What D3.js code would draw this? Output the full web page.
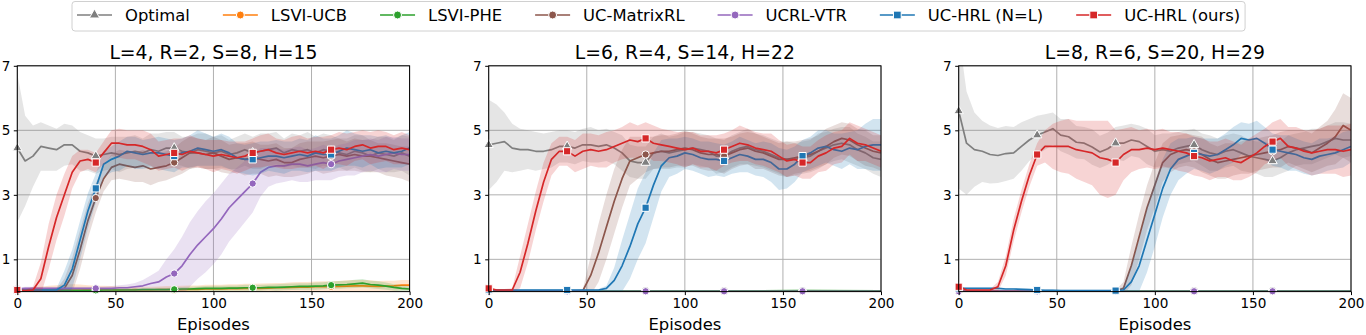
<!DOCTYPE html>
<html>
<head>
<meta charset="utf-8">
<script src="https://cdn.jsdelivr.net/npm/d3@7"></script>
<style>
  body { margin: 0; background: #fff; }
  text { font-family: "DejaVu Sans", sans-serif; }
</style>
</head>
<body>
<div id="chart"></div>
<script>
var episodes = [0,4,8,12,16,20,24,28,32,36,40,44,48,52,56,60,64,68,72,76,80,84,88,92,96,100,
  104,108,112,116,120,124,128,132,136,140,144,148,152,156,160,164,168,172,176,180,184,188,192,196,200];
var episodesFlat = [0,40,80,120,160,200];
var markerEpisodes = [0,40,80,120,160];
var xTicks = [0,50,100,150,200];
var yTicks = [1,3,5,7];

var methodNames = ['Optimal','LSVI-UCB','LSVI-PHE','UC-MatrixRL','UCRL-VTR','UC-HRL (N=L)','UC-HRL (ours)'];
var methodColors = ['#7f7f7f','#ff7f0e','#2ca02c','#8c564b','#9467bd','#1f77b4','#d62728'];
var methodMarkers = ['triangle','circle','circle','circle','circle','square','square'];
var titles = ['L=4, R=2, S=8, H=15','L=6, R=4, S=14, H=22','L=8, R=6, S=20, H=29'];

// ---- panel 1 ----
var p1Optimal = [4.45,4.05,4.2,4.5,4.45,4.4,4.55,4.55,4.35,4.3,
  4.2,4.25,4.3,4.25,4.3,4.35,4.3,4.4,4.35,4.45,
  4.45,4.35,4.3,4.4,4.35,4.3,4.35,4.25,4.3,4.4,
  4.3,4.35,4.4,4.45,4.3,4.4,4.35,4.4,4.3,4.4,
  4.35,4.3,4.25,4.35,4.3,4.2,4.3,4.25,4.2,4.3,
  4.2];
var p1OptimalSd = [2.3,1.4,0.95,0.75,0.7,0.65,0.65,0.6,0.6,0.55,
  0.55,0.5,0.5,0.55,0.5,0.5,0.45,0.5,0.55,0.5,
  0.5,0.45,0.5,0.5,0.55,0.5,0.5,0.45,0.5,0.5,
  0.5,0.55,0.5,0.5,0.45,0.5,0.5,0.55,0.5,0.5,
  0.5,0.45,0.5,0.5,0.55,0.5,0.5,0.55,0.5,0.55,
  0.6];
var p1Ucb = [0.03,0.04,0.05,0.05,0.06,0.06,0.07,0.08,0.08,0.07,
  0.06,0.06,0.05,0.05,0.05,0.06,0.05,0.05,0.06,0.06,
  0.06,0.06,0.07,0.07,0.08,0.08,0.08,0.09,0.09,0.1,
  0.1,0.1,0.11,0.12,0.12,0.13,0.14,0.14,0.15,0.15,
  0.15,0.16,0.17,0.18,0.18,0.17,0.16,0.17,0.18,0.2,
  0.2];
var p1UcbSd = [0.05,0.06,0.08,0.1,0.12,0.14,0.15,0.15,0.14,0.13,
  0.12,0.12,0.12,0.11,0.1,0.1,0.1,0.1,0.1,0.11,
  0.11,0.12,0.12,0.12,0.13,0.13,0.13,0.14,0.14,0.14,
  0.14,0.15,0.15,0.15,0.15,0.16,0.16,0.16,0.16,0.17,
  0.17,0.17,0.18,0.18,0.18,0.18,0.17,0.17,0.16,0.16,
  0.16];
var p1Phe = [0.02,0.02,0.03,0.03,0.03,0.03,0.04,0.04,0.04,0.04,
  0.04,0.05,0.05,0.05,0.05,0.05,0.06,0.06,0.06,0.06,
  0.07,0.08,0.08,0.09,0.1,0.1,0.1,0.11,0.11,0.12,
  0.12,0.12,0.13,0.13,0.14,0.15,0.16,0.16,0.17,0.18,
  0.2,0.21,0.22,0.24,0.26,0.22,0.2,0.17,0.13,0.1,
  0.08];
var p1PheSd = [0.03,0.03,0.03,0.03,0.03,0.03,0.03,0.04,0.04,0.04,
  0.04,0.04,0.05,0.05,0.05,0.05,0.05,0.05,0.06,0.06,
  0.06,0.06,0.07,0.07,0.07,0.08,0.08,0.08,0.08,0.09,
  0.09,0.09,0.09,0.1,0.1,0.1,0.1,0.1,0.11,0.11,
  0.11,0.12,0.12,0.13,0.13,0.12,0.12,0.11,0.1,0.1,
  0.09];
var p1Matrix = [0.02,0.02,0.02,0.02,0.02,0.03,0.1,0.5,1.3,2.2,
  2.9,3.5,3.85,3.95,3.9,3.85,3.9,3.8,3.85,3.9,
  4.0,4.15,4.3,4.3,4.25,4.3,4.2,4.1,4.15,4.1,
  4.15,4.1,4.05,4.1,4.0,4.0,4.1,4.15,4.2,4.15,
  4.2,4.25,4.2,4.25,4.2,4.2,4.15,4.1,4.05,4.0,
  3.95];
var p1MatrixSd = [0.02,0.02,0.02,0.02,0.02,0.05,0.3,0.55,0.6,0.55,
  0.45,0.4,0.4,0.45,0.45,0.45,0.5,0.5,0.45,0.45,
  0.45,0.5,0.5,0.45,0.45,0.5,0.5,0.45,0.45,0.5,
  0.5,0.45,0.5,0.5,0.45,0.45,0.5,0.5,0.45,0.5,
  0.5,0.5,0.45,0.5,0.5,0.5,0.45,0.5,0.5,0.5,
  0.55];
var p1Vtr = [0.08,0.1,0.1,0.1,0.1,0.1,0.1,0.1,0.1,0.1,
  0.1,0.1,0.1,0.12,0.12,0.15,0.18,0.25,0.3,0.45,
  0.56,0.8,1.15,1.45,1.7,1.95,2.25,2.6,2.85,3.1,
  3.35,3.7,3.85,3.9,3.9,3.95,3.95,3.9,3.95,4.0,
  3.95,4.05,4.1,4.15,4.2,4.25,4.2,4.25,4.3,4.25,
  4.25];
var p1VtrSd = [0.04,0.05,0.05,0.05,0.05,0.05,0.05,0.05,0.05,0.05,
  0.05,0.06,0.07,0.08,0.1,0.12,0.18,0.25,0.35,0.55,
  0.75,0.9,1.0,1.05,1.1,1.1,1.1,1.05,1.0,0.95,
  0.9,0.75,0.6,0.55,0.5,0.5,0.55,0.5,0.5,0.55,
  0.5,0.5,0.5,0.55,0.5,0.5,0.5,0.55,0.5,0.5,
  0.5];
var p1Hrl = [0.05,0.05,0.05,0.05,0.05,0.05,0.2,0.7,1.6,2.5,
  3.2,3.95,4.1,4.2,4.35,4.3,4.25,4.3,4.3,4.25,
  4.2,4.3,4.35,4.45,4.4,4.35,4.4,4.3,4.15,4.1,
  4.1,4.15,4.2,4.2,4.15,4.2,4.25,4.2,4.3,4.25,
  4.25,4.35,4.45,4.4,4.35,4.4,4.3,4.35,4.3,4.35,
  4.45];
var p1HrlSd = [0.03,0.03,0.03,0.03,0.03,0.05,0.45,0.6,0.6,0.55,
  0.45,0.4,0.4,0.45,0.45,0.5,0.45,0.45,0.5,0.5,
  0.5,0.45,0.5,0.55,0.5,0.45,0.5,0.5,0.45,0.45,
  0.5,0.5,0.45,0.5,0.5,0.45,0.5,0.5,0.55,0.5,
  0.5,0.5,0.55,0.5,0.5,0.45,0.5,0.5,0.45,0.5,
  0.5];
var p1Ours = [0.05,0.03,0.05,0.4,1.4,2.3,3.0,3.7,4.05,4.1,
  4.0,4.3,4.6,4.6,4.55,4.55,4.5,4.4,4.2,4.25,
  4.3,4.25,4.35,4.3,4.25,4.2,4.25,4.2,4.15,4.2,
  4.3,4.35,4.4,4.3,4.25,4.3,4.35,4.3,4.35,4.3,
  4.4,4.45,4.4,4.5,4.55,4.45,4.5,4.5,4.4,4.45,
  4.4];
var p1OursSd = [0.05,0.03,0.1,0.5,0.7,0.7,0.65,0.5,0.35,0.3,
  0.3,0.35,0.4,0.45,0.45,0.45,0.5,0.5,0.45,0.45,
  0.45,0.5,0.5,0.45,0.45,0.5,0.45,0.45,0.5,0.45,
  0.45,0.5,0.5,0.45,0.45,0.5,0.5,0.45,0.45,0.5,
  0.45,0.5,0.5,0.45,0.45,0.5,0.5,0.45,0.45,0.5,
  0.45];

// ---- panel 2 ----
var p2Optimal = [4.55,4.6,4.65,4.45,4.4,4.4,4.35,4.35,4.4,4.5,
  4.5,4.45,4.55,4.55,4.5,4.55,4.45,4.3,4.05,4.0,
  4.0,4.3,4.35,4.3,4.35,4.4,4.45,4.4,4.35,4.2,
  4.2,4.35,4.45,4.5,4.4,4.35,4.25,4.15,4.1,4.1,
  4.15,4.2,4.35,4.45,4.55,4.6,4.55,4.4,4.3,4.15,
  4.1];
var p2OptimalSd = [1.4,1.2,0.9,0.75,0.65,0.6,0.6,0.55,0.55,0.5,
  0.5,0.5,0.5,0.55,0.5,0.5,0.5,0.55,0.5,0.5,
  0.5,0.5,0.55,0.5,0.5,0.55,0.5,0.5,0.5,0.55,
  0.5,0.5,0.5,0.55,0.5,0.5,0.5,0.5,0.55,0.5,
  0.5,0.5,0.55,0.5,0.5,0.5,0.55,0.5,0.5,0.5,
  0.55];
var p2Ucb = [0.02,0.02,0.02,0.02,0.02,0.02];
var p2UcbSd = [0.02,0.02,0.02,0.02,0.02,0.02];
var p2Phe = [0.02,0.02,0.02,0.02,0.03,0.02];
var p2PheSd = [0.02,0.02,0.02,0.02,0.03,0.02];
var p2Matrix = [0.02,0.02,0.02,0.02,0.02,0.02,0.02,0.02,0.02,0.02,
  0.02,0.02,0.03,0.5,1.2,2.0,2.8,3.5,4.05,4.15,
  4.25,4.3,4.35,4.35,4.4,4.45,4.4,4.3,4.25,4.25,
  4.2,4.3,4.4,4.45,4.35,4.3,4.2,4.1,4.1,4.15,
  4.2,4.25,4.35,4.5,4.65,4.75,4.7,4.55,4.45,4.35,
  4.3];
var p2MatrixSd = [0.02,0.02,0.02,0.02,0.02,0.02,0.02,0.02,0.02,0.02,
  0.02,0.02,0.05,0.6,0.9,1.0,1.0,0.9,0.75,0.65,
  0.55,0.5,0.5,0.5,0.5,0.55,0.5,0.5,0.5,0.5,
  0.55,0.5,0.5,0.5,0.55,0.5,0.5,0.5,0.55,0.5,
  0.5,0.5,0.5,0.55,0.5,0.5,0.5,0.5,0.55,0.5,
  0.55];
var p2Vtr = [0.01,0.01,0.01,0.01,0.01,0.01];
var p2VtrSd = [0.01,0.01,0.01,0.01,0.01,0.01];
var p2Hrl = [0.05,0.05,0.05,0.05,0.05,0.05,0.05,0.05,0.05,0.05,
  0.05,0.05,0.05,0.05,0.05,0.1,0.35,0.8,1.4,2.1,
  2.6,3.3,3.9,4.15,4.2,4.3,4.25,4.15,4.1,4.1,
  4.05,4.15,4.25,4.2,4.1,4.1,4.0,3.8,3.8,3.95,
  4.2,4.3,4.45,4.5,4.4,4.35,4.45,4.4,4.5,4.55,
  4.55];
var p2HrlSd = [0.03,0.03,0.03,0.03,0.03,0.03,0.03,0.03,0.03,0.03,
  0.03,0.03,0.03,0.03,0.03,0.08,0.4,0.8,1.0,1.1,
  1.1,1.0,0.8,0.6,0.55,0.5,0.5,0.5,0.55,0.5,
  0.5,0.5,0.55,0.5,0.5,0.55,0.6,0.65,0.6,0.55,
  0.5,0.5,0.55,0.5,0.5,0.55,0.5,0.6,0.7,0.8,
  0.8];
var p2Ours = [0.1,0.05,0.05,0.05,0.6,1.5,2.5,3.4,4.1,4.35,
  4.35,4.2,4.35,4.4,4.35,4.4,4.5,4.6,4.7,4.65,
  4.75,4.6,4.55,4.5,4.45,4.4,4.45,4.35,4.35,4.3,
  4.4,4.5,4.6,4.55,4.45,4.4,4.35,4.2,4.05,4.1,
  4.0,4.0,4.2,4.3,4.45,4.5,4.75,4.6,4.55,4.45,
  4.35];
var p2OursSd = [0.05,0.03,0.03,0.05,0.5,0.6,0.6,0.6,0.5,0.45,
  0.45,0.5,0.55,0.5,0.5,0.55,0.5,0.5,0.55,0.5,
  0.5,0.55,0.5,0.5,0.5,0.55,0.5,0.5,0.5,0.55,
  0.5,0.5,0.55,0.5,0.5,0.5,0.55,0.5,0.5,0.5,
  0.5,0.5,0.5,0.55,0.5,0.5,0.5,0.55,0.5,0.5,
  0.5];

// ---- panel 3 ----
var p3Optimal = [5.6,4.6,4.4,4.35,4.25,4.22,4.28,4.3,4.5,4.7,
  4.85,4.95,5.05,4.85,4.8,4.63,4.6,4.48,4.33,4.43,
  4.6,4.6,4.7,4.65,4.5,4.35,4.4,4.35,4.45,4.5,
  4.55,4.4,4.3,4.25,4.35,4.4,4.3,4.2,4.15,4.1,
  4.05,4.15,4.3,4.4,4.45,4.5,4.55,4.65,4.75,4.7,
  4.7];
var p3OptimalSd = [2.4,1.6,1.15,0.95,0.9,0.85,0.85,0.8,0.75,0.65,
  0.6,0.55,0.5,0.5,0.55,0.5,0.5,0.55,0.5,0.5,
  0.5,0.55,0.5,0.5,0.55,0.5,0.5,0.55,0.5,0.5,
  0.5,0.5,0.55,0.5,0.5,0.5,0.55,0.5,0.5,0.55,
  0.5,0.5,0.55,0.5,0.5,0.55,0.5,0.5,0.5,0.55,
  0.5];
var p3Ucb = [0.02,0.02,0.02,0.02,0.02,0.02];
var p3UcbSd = [0.02,0.02,0.02,0.02,0.02,0.02];
var p3Phe = [0.02,0.02,0.02,0.02,0.02,0.02];
var p3PheSd = [0.02,0.02,0.02,0.02,0.02,0.02];
var p3Matrix = [0.02,0.02,0.02,0.02,0.02,0.02,0.02,0.02,0.02,0.02,
  0.02,0.02,0.02,0.02,0.02,0.02,0.02,0.02,0.02,0.02,
  0.02,0.1,0.8,1.7,2.6,3.3,4.0,4.25,4.35,4.4,
  4.35,4.25,4.1,4.0,4.05,4.1,4.15,4.2,4.25,4.3,
  4.35,4.4,4.5,4.45,4.4,4.3,4.45,4.6,4.8,5.15,
  5.0];
var p3MatrixSd = [0.02,0.02,0.02,0.02,0.02,0.02,0.02,0.02,0.02,0.02,
  0.02,0.02,0.02,0.02,0.02,0.02,0.02,0.02,0.02,0.02,
  0.02,0.2,0.6,0.7,0.7,0.7,0.6,0.55,0.5,0.5,
  0.5,0.55,0.5,0.5,0.55,0.5,0.5,0.55,0.5,0.5,
  0.5,0.55,0.5,0.55,0.6,0.6,0.65,0.7,0.85,1.0,
  1.0];
var p3Vtr = [0.01,0.01,0.01,0.01,0.01,0.01];
var p3VtrSd = [0.01,0.01,0.01,0.01,0.01,0.01];
var p3Hrl = [0.1,0.1,0.1,0.1,0.1,0.1,0.08,0.08,0.07,0.06,
  0.05,0.04,0.04,0.03,0.03,0.03,0.03,0.03,0.03,0.03,
  0.03,0.05,0.3,0.8,1.6,2.4,3.2,3.8,4.1,4.2,
  4.3,4.25,4.2,4.25,4.4,4.55,4.75,4.7,4.75,4.6,
  4.4,4.35,4.3,4.25,4.15,4.1,4.2,4.25,4.3,4.4,
  4.5];
var p3HrlSd = [0.03,0.03,0.03,0.03,0.03,0.03,0.03,0.03,0.03,0.03,
  0.03,0.03,0.03,0.03,0.03,0.03,0.03,0.03,0.03,0.03,
  0.03,0.1,0.5,0.8,1.0,1.0,0.9,0.8,0.65,0.55,
  0.5,0.5,0.55,0.5,0.5,0.55,0.5,0.5,0.55,0.5,
  0.5,0.5,0.55,0.5,0.5,0.5,0.55,0.5,0.5,0.55,
  0.5];
var p3Ours = [0.15,0.05,0.05,0.05,0.05,0.15,0.8,1.9,2.8,3.6,
  4.25,4.5,4.5,4.5,4.5,4.4,4.35,4.3,4.15,4.1,
  4.0,4.25,4.4,4.4,4.45,4.4,4.45,4.4,4.35,4.3,
  4.2,4.15,4.05,4.1,4.15,4.05,4.0,4.15,4.3,4.5,
  4.65,4.75,4.5,4.45,4.35,4.3,4.35,4.4,4.4,4.35,
  4.4];
var p3OursSd = [0.05,0.03,0.03,0.03,0.03,0.15,0.3,0.35,0.35,0.35,
  0.35,0.5,0.7,0.8,0.85,0.9,0.95,1.0,1.15,1.2,
  1.0,0.8,0.7,0.6,0.6,0.6,0.6,0.55,0.6,0.6,
  0.6,0.6,0.6,0.55,0.6,0.6,0.55,0.6,0.6,0.55,
  0.6,0.6,0.6,0.65,0.65,0.7,0.7,0.75,0.75,0.8,
  0.8];

var panels = [
  { title: titles[0], left: 17.3, series: [
    [episodes, p1Optimal, p1OptimalSd], [episodes, p1Ucb, p1UcbSd], [episodes, p1Phe, p1PheSd],
    [episodes, p1Matrix, p1MatrixSd], [episodes, p1Vtr, p1VtrSd], [episodes, p1Hrl, p1HrlSd],
    [episodes, p1Ours, p1OursSd]] },
  { title: titles[1], left: 488.7, series: [
    [episodes, p2Optimal, p2OptimalSd], [episodesFlat, p2Ucb, p2UcbSd], [episodesFlat, p2Phe, p2PheSd],
    [episodes, p2Matrix, p2MatrixSd], [episodesFlat, p2Vtr, p2VtrSd], [episodes, p2Hrl, p2HrlSd],
    [episodes, p2Ours, p2OursSd]] },
  { title: titles[2], left: 958.7, series: [
    [episodes, p3Optimal, p3OptimalSd], [episodesFlat, p3Ucb, p3UcbSd], [episodesFlat, p3Phe, p3PheSd],
    [episodes, p3Matrix, p3MatrixSd], [episodesFlat, p3Vtr, p3VtrSd], [episodes, p3Hrl, p3HrlSd],
    [episodes, p3Ours, p3OursSd]] }
];

var W = 1366, H = 335;
var plotW = 392.3, plotTop = 65.8, plotBottom = 291.6;

var svg = d3.select('#chart')
  .append('svg')
  .attr('width', W)
  .attr('height', H);

function symbolFor(name) {
  if (name === 'triangle') return d3.symbolTriangle;
  if (name === 'square') return d3.symbolSquare;
  return d3.symbolCircle;
}
function symbolSize(name) {
  if (name === 'triangle') return 38;
  if (name === 'square') return 52;
  return 42;
}

panels.forEach(function(panel, pi) {
  var x = d3.scaleLinear().domain([0, 200]).range([panel.left, panel.left + plotW]);
  var y = d3.scaleLinear().domain([0, 7]).range([plotBottom, plotTop]);

  var g = svg.append('g');

  svg.append('clipPath')
    .attr('id', 'clip' + pi)
    .append('rect')
    .attr('x', panel.left)
    .attr('y', plotTop)
    .attr('width', plotW)
    .attr('height', plotBottom - plotTop);

  // grid
  g.selectAll('line.gx')
    .data(xTicks)
    .enter()
    .append('line')
    .attr('x1', function(d) { return x(d); })
    .attr('x2', function(d) { return x(d); })
    .attr('y1', plotTop)
    .attr('y2', plotBottom)
    .attr('stroke', '#b0b0b0')
    .attr('stroke-width', 1);
  g.selectAll('line.gy')
    .data(yTicks)
    .enter()
    .append('line')
    .attr('x1', panel.left)
    .attr('x2', panel.left + plotW)
    .attr('y1', function(d) { return y(d); })
    .attr('y2', function(d) { return y(d); })
    .attr('stroke', '#b0b0b0')
    .attr('stroke-width', 1);

  var plot = g.append('g').attr('clip-path', 'url(#clip' + pi + ')');

  panel.series.forEach(function(s, si) {
    var xs = s[0], mean = s[1], sd = s[2];
    var pts = xs.map(function(e, i) { return { ep: e, m: mean[i], sd: sd[i] }; });
    var color = methodColors[si];

    var area = d3.area()
      .x(function(d) { return x(d.ep); })
      .y0(function(d) { return y(d.m - d.sd); })
      .y1(function(d) { return y(d.m + d.sd); });
    var line = d3.line()
      .x(function(d) { return x(d.ep); })
      .y(function(d) { return y(d.m); });

    plot.append('path')
      .datum(pts)
      .attr('d', area)
      .attr('fill', color)
      .attr('fill-opacity', 0.2)
      .attr('stroke', 'none');
    plot.append('path')
      .datum(pts)
      .attr('d', line)
      .attr('fill', 'none')
      .attr('stroke', color)
      .attr('stroke-width', 1.7)
      .attr('stroke-linejoin', 'round');

    var marks = pts.filter(function(d) { return markerEpisodes.indexOf(d.ep) >= 0; });
    g.selectAll(null)
      .data(marks)
      .enter()
      .append('path')
      .attr('d', d3.symbol().type(symbolFor(methodMarkers[si])).size(symbolSize(methodMarkers[si])))
      .attr('transform', function(d) { return 'translate(' + x(d.ep) + ',' + y(d.m) + ')'; })
      .attr('fill', color)
      .attr('stroke', '#fff')
      .attr('stroke-width', 1);
  });

  // frame
  g.append('rect')
    .attr('x', panel.left)
    .attr('y', plotTop)
    .attr('width', plotW)
    .attr('height', plotBottom - plotTop)
    .attr('fill', 'none')
    .attr('stroke', '#000')
    .attr('stroke-width', 1);

  var xAxis = g.append('g')
    .attr('transform', 'translate(0,' + plotBottom + ')')
    .call(d3.axisBottom(x).tickValues(xTicks).tickSize(3.5).tickPadding(3.5).tickFormat(d3.format('d')));
  var yAxis = g.append('g')
    .attr('transform', 'translate(' + panel.left + ',0)')
    .call(d3.axisLeft(y).tickValues(yTicks).tickSize(3.5).tickPadding(3.5).tickFormat(d3.format('d')));
  [xAxis, yAxis].forEach(function(a) {
    a.select('.domain').remove();
    a.selectAll('text')
      .attr('font-family', '"DejaVu Sans", sans-serif')
      .attr('font-size', '13.6px')
      .attr('fill', '#000');
    a.selectAll('line').attr('stroke', '#000');
  });

  g.append('text')
    .attr('x', panel.left + plotW / 2)
    .attr('y', 58.5)
    .attr('text-anchor', 'middle')
    .attr('font-size', '18.8px')
    .text(panel.title);

  g.append('text')
    .attr('x', panel.left + plotW / 2)
    .attr('y', 330)
    .attr('text-anchor', 'middle')
    .attr('font-size', '16.4px')
    .text('Episodes');
});

// legend
var legend = svg.append('g');
var legendBox = legend.append('rect')
  .attr('x', 72)
  .attr('y', 1.5)
  .attr('height', 29.5)
  .attr('rx', 3)
  .attr('fill', '#fff')
  .attr('fill-opacity', 0.8)
  .attr('stroke', '#d0d0d0')
  .attr('stroke-width', 1);

var lx = 77;
methodNames.forEach(function(name, i) {
  var item = legend.append('g');
  item.append('line')
    .attr('x1', lx)
    .attr('x2', lx + 35)
    .attr('y1', 15)
    .attr('y2', 15)
    .attr('stroke', methodColors[i])
    .attr('stroke-width', 1.7);
  item.append('path')
    .attr('d', d3.symbol().type(symbolFor(methodMarkers[i])).size(symbolSize(methodMarkers[i]) + 8))
    .attr('transform', 'translate(' + (lx + 17.5) + ',15)')
    .attr('fill', methodColors[i])
    .attr('stroke', '#fff')
    .attr('stroke-width', 1);
  var t = item.append('text')
    .attr('x', lx + 48)
    .attr('y', 21)
    .attr('font-size', '16.4px')
    .text(name);
  lx = lx + 48 + t.node().getComputedTextLength() + 33;
});
legendBox.attr('width', lx - 33 + 5 - 72 + 119 - 119 + 0);
legendBox.attr('width', (lx - 33) + 5 - 72 + 0);
</script>
</body>
</html>
